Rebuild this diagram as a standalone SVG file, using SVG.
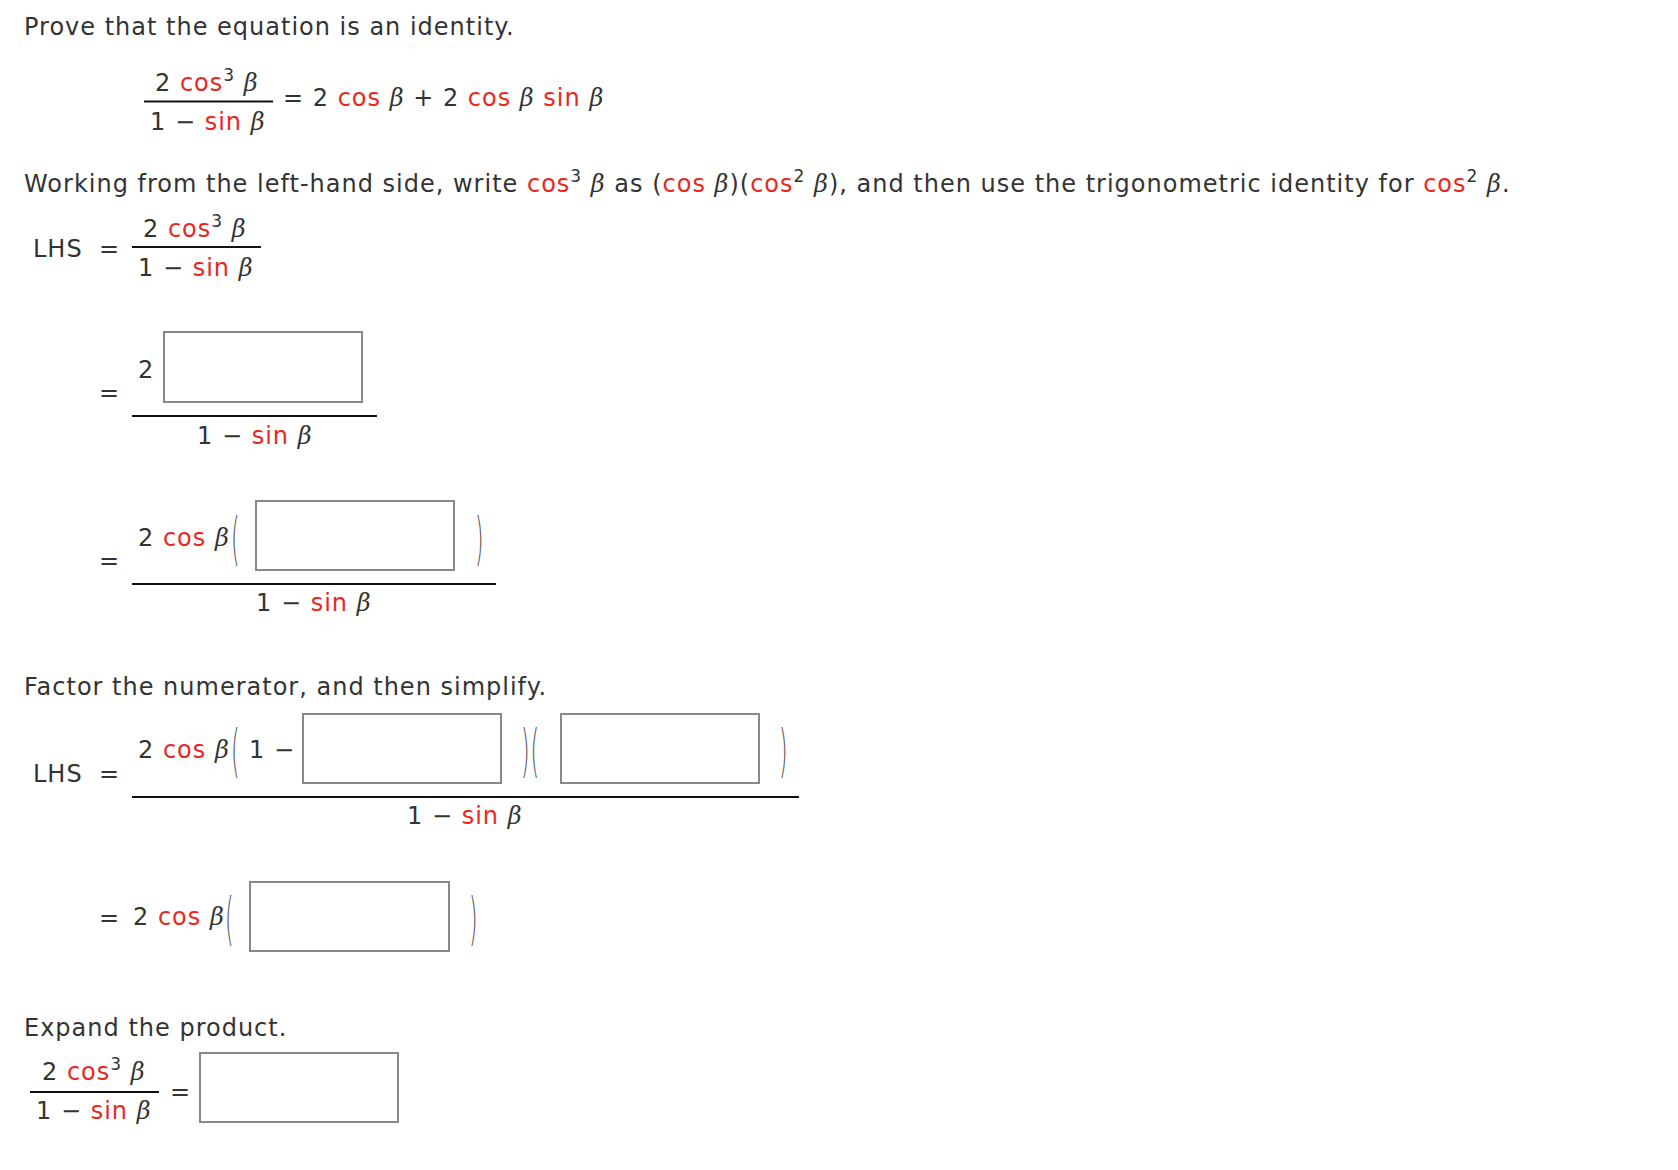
<svg xmlns="http://www.w3.org/2000/svg" width="1678" height="1170" viewBox="0 0 1678 1170">
<style>
text{font-family:"DejaVu Sans","Verdana",sans-serif;font-size:24px;letter-spacing:1px;fill:#333}
.r{fill:#e8281e}
.b{font-style:italic;font-family:"DejaVu Serif",serif}
.s{font-size:17px}
.box{fill:#fff;stroke:#888;stroke-width:2}
.fl{stroke:#111;stroke-width:2}
.p{font-weight:100;fill:#555;font-size:22px}
</style>
<rect width="1678" height="1170" fill="#fff"/>
<g id="intro">
<text x="24" y="35">Prove that the equation is an identity.</text>
<text x="155" y="91">2 <tspan class="r">cos</tspan><tspan class="s" dy="-10">3</tspan><tspan dy="10"> </tspan><tspan class="b">β</tspan></text>
<line class="fl" x1="144" y1="101.5" x2="273" y2="101.5"/>
<text x="150" y="130">1 − <tspan class="r">sin</tspan> <tspan class="b">β</tspan></text>
<text x="283" y="106">= 2 <tspan class="r">cos</tspan> <tspan class="b">β</tspan> + 2 <tspan class="r">cos</tspan> <tspan class="b">β</tspan> <tspan class="r">sin</tspan> <tspan class="b">β</tspan></text>
</g>
<g id="step1">
<text x="24" y="192">Working from the left-hand side, write <tspan class="r">cos</tspan><tspan class="s" dy="-10">3</tspan><tspan dy="10"> </tspan><tspan class="b">β</tspan> as (<tspan class="r">cos</tspan> <tspan class="b">β</tspan>)(<tspan class="r">cos</tspan><tspan class="s" dy="-10">2</tspan><tspan dy="10"> </tspan><tspan class="b">β</tspan>), and then use the trigonometric identity for <tspan class="r">cos</tspan><tspan class="s" dy="-10">2</tspan><tspan dy="10"> </tspan><tspan class="b">β</tspan>.</text>
<text x="33" y="257">LHS</text><text x="99" y="257">=</text>
<text x="143" y="237">2 <tspan class="r">cos</tspan><tspan class="s" dy="-10">3</tspan><tspan dy="10"> </tspan><tspan class="b">β</tspan></text>
<line class="fl" x1="132" y1="247" x2="261" y2="247"/>
<text x="138" y="276">1 − <tspan class="r">sin</tspan> <tspan class="b">β</tspan></text>
</g>
<g id="step2">
<text x="99" y="401">=</text>
<text x="138" y="378">2</text>
<rect class="box" x="164" y="332" width="198" height="70"/>
<line class="fl" x1="132" y1="416" x2="377" y2="416"/>
<text x="197" y="444">1 − <tspan class="r">sin</tspan> <tspan class="b">β</tspan></text>
</g>
<g id="step3">
<text x="99" y="569">=</text>
<text x="138" y="546">2 <tspan class="r">cos</tspan> <tspan class="b">β</tspan></text>
<text class="p" transform="translate(231,558) scale(1,2.6)">(</text>
<rect class="box" x="256" y="501" width="198" height="69"/>
<text class="p" transform="translate(475,558) scale(1,2.6)">)</text>
<line class="fl" x1="132" y1="584" x2="496" y2="584"/>
<text x="256" y="611">1 − <tspan class="r">sin</tspan> <tspan class="b">β</tspan></text>
</g>
<g id="step4">
<text x="24" y="695">Factor the numerator, and then simplify.</text>
<text x="33" y="782">LHS</text><text x="99" y="782">=</text>
<text x="138" y="758">2 <tspan class="r">cos</tspan> <tspan class="b">β</tspan></text>
<text class="p" transform="translate(231,770) scale(1,2.6)">(</text>
<text x="249" y="758">1 −</text>
<rect class="box" x="303" y="714" width="198" height="69"/>
<text class="p" transform="translate(521,770) scale(1,2.6)">)(</text>
<rect class="box" x="561" y="714" width="198" height="69"/>
<text class="p" transform="translate(779,770) scale(1,2.6)">)</text>
<line class="fl" x1="132" y1="797" x2="799" y2="797"/>
<text x="407" y="824">1 − <tspan class="r">sin</tspan> <tspan class="b">β</tspan></text>
</g>
<g id="step5">
<text x="99" y="926">=</text>
<text x="133" y="925">2 <tspan class="r">cos</tspan> <tspan class="b">β</tspan></text>
<text class="p" transform="translate(225,938) scale(1,2.6)">(</text>
<rect class="box" x="250" y="882" width="199" height="69"/>
<text class="p" transform="translate(469,938) scale(1,2.6)">)</text>
</g>
<g id="step6">
<text x="24" y="1036">Expand the product.</text>
<text x="42" y="1080">2 <tspan class="r">cos</tspan><tspan class="s" dy="-10">3</tspan><tspan dy="10"> </tspan><tspan class="b">β</tspan></text>
<line class="fl" x1="30" y1="1092" x2="159" y2="1092"/>
<text x="36" y="1119">1 − <tspan class="r">sin</tspan> <tspan class="b">β</tspan></text>
<text x="170" y="1100">=</text>
<rect class="box" x="200" y="1053" width="198" height="69"/>
</g>
</svg>
